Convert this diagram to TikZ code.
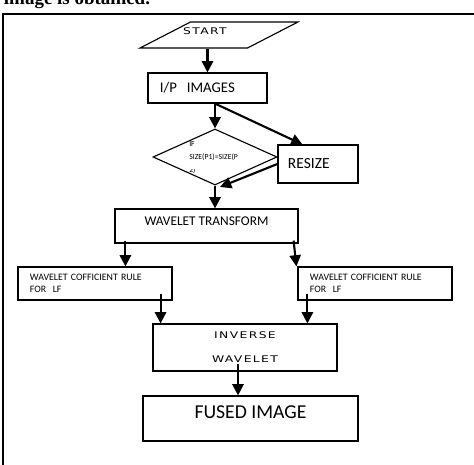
\documentclass[tikz,border=0pt]{standalone}
\usepackage{fontspec}
\setmainfont{Carlito}
\newfontfamily\headfont{Liberation Serif}
\newfontfamily\capsfont{DejaVu Sans}[FakeStretch=1.35, LetterSpace=15]
\usetikzlibrary{arrows.meta,shapes.geometric,calc,positioning}

\begin{document}
\begin{tikzpicture}[
    x=0.025cm, y=-0.025cm,
    every node/.style={
        font=\fontsize{9.5}{11}\selectfont
    },
    box/.style={
        draw, rectangle,
        line width=0.8pt,
        inner sep=0pt
    },
    flow/.style={
        -{Triangle[length=8pt,width=8pt]},
        line width=1.5pt
    }
]
\useasboundingbox (0,0) rectangle (474,465);
% heading line cut off by the page
\node[font=\headfont\bfseries\fontsize{13.5}{15}\selectfont, anchor=base west] (heading) at (-1,5) {image is obtained.};
\draw[line width=1pt] (480,14) -- (3,14) -- (3,470);

\node[box, trapezium, inner sep=2pt, trapezium left angle=48.5, trapezium right angle=131.5,
      trapezium stretches=true, minimum width=3.95cm, minimum height=0.65cm] (start) at (219,35) {};
\node[font=\capsfont\fontsize{6.5}{8}\selectfont] (starttext) at (205,31.5) {START};
\node[box, minimum width=2.975cm, minimum height=0.75cm, text width=2.375cm, align=left,
      font=\fontsize{10.5}{12}\selectfont] (ipimages) at (207.5,88) {I/P\ \ IMAGES};
\node[box, diamond, inner sep=2pt, minimum width=3.1cm, minimum height=1.4cm] (decision) at (215,157) {};
\node[font=\fontsize{5.5}{9.2}\selectfont, align=left, anchor=west, inner sep=0pt] (ifsize) at (189,151.5) {IF\\SIZE(P1)=SIZE(P};
\begin{scope}
  \clip (185,170) rectangle (250,177);
  \node[font=\fontsize{5.5}{9.2}\selectfont, anchor=base west, inner sep=0pt] (ifrest) at (189,173) {2)};
\end{scope}
\node[box, minimum width=2cm, minimum height=0.95cm, text width=1.5cm, align=left,
      font=\fontsize{11}{13}\selectfont] (resize) at (318,164) {RESIZE};
\coordinate (merge) at (220,187);

\node[box, minimum width=4.575cm, minimum height=0.85cm, text depth=7pt] (wt) at (206.5,226) {WAVELET TRANSFORM};
\node[box, minimum width=3.85cm, minimum height=0.825cm, text width=3.25cm, align=left,
      font=\fontsize{7}{8.5}\selectfont] (coefL) at (95,283.5) {WAVELET COFFICIENT RULE\\FOR\ \ LF};
\node[box, minimum width=3.85cm, minimum height=0.825cm, text width=3.25cm, align=left,
      font=\fontsize{7}{8.5}\selectfont] (coefR) at (375,283.5) {WAVELET COFFICIENT RULE\\FOR\ \ LF};
\node[box, minimum width=4.6cm, minimum height=1.175cm, align=center,
      font=\capsfont\fontsize{6.5}{17}\selectfont] (inverse) at (245,347.5) {INVERSE\\WAVELET};
\node[box, minimum width=5.375cm, minimum height=1.125cm, text depth=9pt,
      font=\fontsize{14}{16}\selectfont] (fused) at (250.5,418.5) {FUSED IMAGE};

% connectors
\draw[flow] (ipimages.north |- start.south) -- (ipimages.north);
\draw[flow] (decision.north |- ipimages.south) -- (decision.north);
\draw[flow] (decision.north |- ipimages.south) -- ([xshift=0.625cm]resize.north west);
\draw[flow] (resize.west) -- (merge);
\draw[flow] (decision.south) -- (decision.south |- wt.north);
\coordinate (wtL) at ($(wt.south west)+(11,-3)$);
\draw[flow] (wtL) -- (wtL |- coefL.north);
\draw[flow] ($(wt.south east)+(-5,-3)$) -- ($(coefR.north west)+(-1,0)$);
\coordinate (coefLout) at ($(coefL.south east)+(-12,-7)$);
\draw[flow] (coefLout) -- (coefLout |- inverse.north);
\coordinate (coefRout) at ($(coefR.south west)+(10,-7)$);
\draw[flow] (coefRout) -- (coefRout |- inverse.north);
\coordinate (invout) at ($(inverse.south)+(-7,-8)$);
\draw[flow] (invout) -- (invout |- fused.north);
\end{tikzpicture}
\end{document}
